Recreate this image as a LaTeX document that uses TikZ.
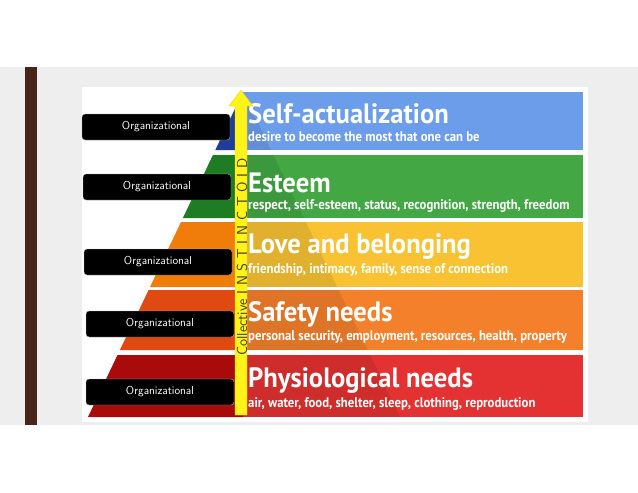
\documentclass[tikz,border=0pt]{standalone}
\usepackage{fontspec}
\setmainfont{PT Sans}
\begin{document}
\begin{tikzpicture}[x=1pt,y=-1pt,
  orgbox/.style={fill=black,draw=white!70!black,line width=0.4pt,rounded corners=3pt,minimum width=148pt,minimum height=26pt,text=white,font=\fontsize{11.5}{12}\selectfont\sffamily},
  ttl/.style={anchor=west,text=white,font=\fontsize{28}{29}\selectfont\bfseries,xscale=0.95,inner sep=0pt},
  sub/.style={anchor=west,text=white,font=\fontsize{14}{15}\selectfont\bfseries,xscale=0.91,inner sep=0pt}]
\definecolor{bgray}{HTML}{EEEEEE}
\definecolor{brn}{HTML}{4A2418}
\definecolor{bB}{HTML}{6B9DEB}\definecolor{pB}{HTML}{1F3E9C}
\definecolor{bG}{HTML}{43A843}\definecolor{pG}{HTML}{1E7D22}
\definecolor{bY}{HTML}{F8C233}\definecolor{pY}{HTML}{F07D0A}
\definecolor{bO}{HTML}{F5802B}\definecolor{pO}{HTML}{E04A12}
\definecolor{bR}{HTML}{E43131}\definecolor{pR}{HTML}{A90B0B}
\useasboundingbox (0,0) rectangle (638,493);
\fill[white] (0,0) rectangle (638,493);
\fill[bgray] (0,67) rectangle (638,425);
\fill[brn] (25,67) rectangle (37,425);
\fill[white] (82,87) rectangle (588,422);
% bands
\fill[bB] (243,92) rectangle (583,150);
\fill[bG] (243,155) rectangle (583,218);
\fill[bY] (243,222) rectangle (583,287);
\fill[bO] (243,290) rectangle (583,350);
\fill[bR] (243,355) rectangle (583,417);
% darker right half of pyramid
\begin{scope}
\clip (243,92) rectangle (583,150) (243,155) rectangle (583,218) (243,222) rectangle (583,287) (243,290) rectangle (583,350) (243,355) rectangle (583,417);
\fill[black,opacity=0.09] (243,92) -- (400,417) -- (243,417) -- cycle;
\end{scope}
% pyramid left
\fill[pB] (243,92) -- (243,150) -- (215.3,150) -- cycle;
\fill[pG] (212.9,155) -- (243,155) -- (243,218) -- (182.9,218) -- cycle;
\fill[pY] (181,222) -- (243,222) -- (243,287) -- (150,287) -- cycle;
\fill[pO] (148.6,290) -- (243,290) -- (243,350) -- (119.9,350) -- cycle;
\fill[pR] (117.5,355) -- (243,355) -- (243,417) -- (88,417) -- cycle;
% texts
\node[ttl] (t1) at (248,114) {Self-actualization};
\node[sub] (s1) at (248,137) {desire to become the most that one can be};
\node[ttl] (t2) at (248,183) {Esteem};
\node[sub] (s2) at (248,206) {respect, self-esteem, status, recognition, strength, freedom};
\node[ttl] (t3) at (248,247) {Love and belonging};
\node[sub] (s3) at (248,270) {friendship, intimacy, family, sense of connection};
\node[ttl] (t4) at (248,314) {Safety needs};
\node[sub] (s4) at (248,337) {personal security, employment, resources, health, property};
\node[ttl] (t5) at (248,381) {Physiological needs};
\node[sub] (s5) at (248,404) {air, water, food, shelter, sleep, clothing, reproduction};
% arrow
\fill[yellow!90!white,draw=yellow!60!orange,line width=0.3pt] (235,415) -- (235,106) -- (229,106) -- (241,90) -- (253,106) -- (247,106) -- (247,415) -- cycle;
\node[rotate=90,anchor=west,text=black!70!olive,font=\fontsize{14.5}{15}\selectfont\sffamily,inner sep=0pt] (lab) at (242,356) {Collective I N S T I N C T O I D};
% boxes
\node[orgbox] (o1) at (156,127) {Organizational};
\node[orgbox] (o2) at (157,187) {Organizational};
\node[orgbox] (o3) at (158,262) {Organizational};
\node[orgbox] (o4) at (160,324) {Organizational};
\node[orgbox] (o5) at (160,392) {Organizational};
\end{tikzpicture}
\end{document}
